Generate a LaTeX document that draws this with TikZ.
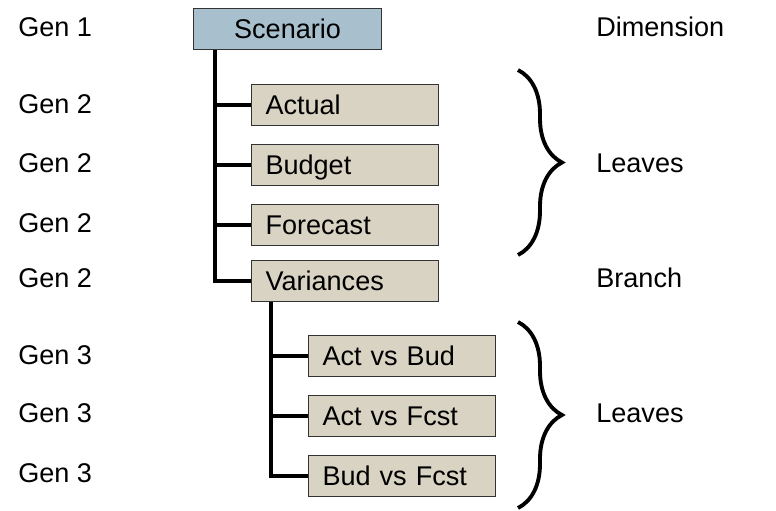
\documentclass[tikz,border=0pt]{standalone}
\usepackage{fontspec}
\setmainfont{Liberation Sans}
\usetikzlibrary{decorations.pathreplacing}
\definecolor{dimblue}{RGB}{168,191,205}
\definecolor{membeige}{RGB}{217,211,195}

\begin{document}
\begin{tikzpicture}
  \useasboundingbox (0,0) rectangle (15.52,-10.22);

  \node[anchor=center,inner sep=0mm] (X) at (0,0) {};

  % node styles
  \tikzstyle{Box}=[
  anchor=west,
  font=\fontsize{15.4}{18}\selectfont,
  draw=black!80,line width=0.6pt,
  shape=rectangle,
  minimum height=0.78cm,
  inner xsep=0.28cm,
  text width=3.18cm,
  text height=14pt,
  text depth=3pt,
  align=left,
  fill=membeige]

  \tikzstyle{Label}=[anchor=west,inner sep=0mm,font=\fontsize{15.4}{18}\selectfont]
  \tikzstyle{Tree}=[line width=2pt]
  \tikzstyle{Brace}=[line width=2.2pt,decorate,decoration={brace,amplitude=0.88cm}]

  % generation labels
  \draw (X) node[Label] (G1) at +(0.36,-0.54) {Gen 1};
  \draw (X) node[Label] (G2) at +(0.36,-2.08) {Gen 2};
  \draw (X) node[Label] (G3) at +(0.36,-3.26) {Gen 2};
  \draw (X) node[Label] (G4) at +(0.36,-4.46) {Gen 2};
  \draw (X) node[Label] (G5) at +(0.36,-5.56) {Gen 2};
  \draw (X) node[Label] (G6) at +(0.36,-7.10) {Gen 3};
  \draw (X) node[Label] (G7) at +(0.36,-8.26) {Gen 3};
  \draw (X) node[Label] (G8) at +(0.36,-9.46) {Gen 3};

  % members
  \draw (X) node[Box,fill=dimblue,align=center,text width=3.20cm,minimum height=0.76cm] (S) at +(3.86,-0.58) {Scenario};
  \draw (X) node[Box] (B1) at +(5.02,-2.10) {Actual};
  \draw (X) node[Box] (B2) at +(5.02,-3.30) {Budget};
  \draw (X) node[Box] (B3) at +(5.02,-4.50) {Forecast};
  \draw (X) node[Box] (B4) at +(5.02,-5.62) {Variances};
  \draw (X) node[Box] (C1) at +(6.16,-7.12) {Act vs Bud};
  \draw (X) node[Box] (C2) at +(6.16,-8.32) {Act vs Fcst};
  \draw (X) node[Box] (C3) at +(6.16,-9.52) {Bud vs Fcst};

  \draw[Tree] ([xshift=0.44cm]S.south west) |- (B1.west);
  \draw[Tree] ([xshift=0.44cm]S.south west) |- (B2.west);
  \draw[Tree] ([xshift=0.44cm]S.south west) |- (B3.west);
  \draw[Tree] ([xshift=0.44cm]S.south west) |- (B4.west);

  \draw[Tree] ([xshift=0.40cm]B4.south west) |- (C1.west);
  \draw[Tree] ([xshift=0.40cm]B4.south west) |- (C2.west);
  \draw[Tree] ([xshift=0.40cm]B4.south west) |- (C3.west);

  % right side
  \coordinate (T1) at (10.36,-1.40);
  \coordinate (T2) at (10.36,-5.10);
  \coordinate (T3) at (10.36,-6.44);
  \coordinate (T4) at (10.36,-10.16);
  \draw[Brace] (T1) -- (T2);
  \draw[Brace] (T3) -- (T4);

  \draw (X) node[Label] (D) at +(11.92,-0.54) {Dimension};
  \draw (X) node[Label] (L1) at +(11.92,-3.26) {Leaves};
  \draw (X) node[Label] (R) at +(11.92,-5.56) {Branch};
  \draw (X) node[Label] (L2) at +(11.92,-8.26) {Leaves};

\end{tikzpicture}
\end{document}
